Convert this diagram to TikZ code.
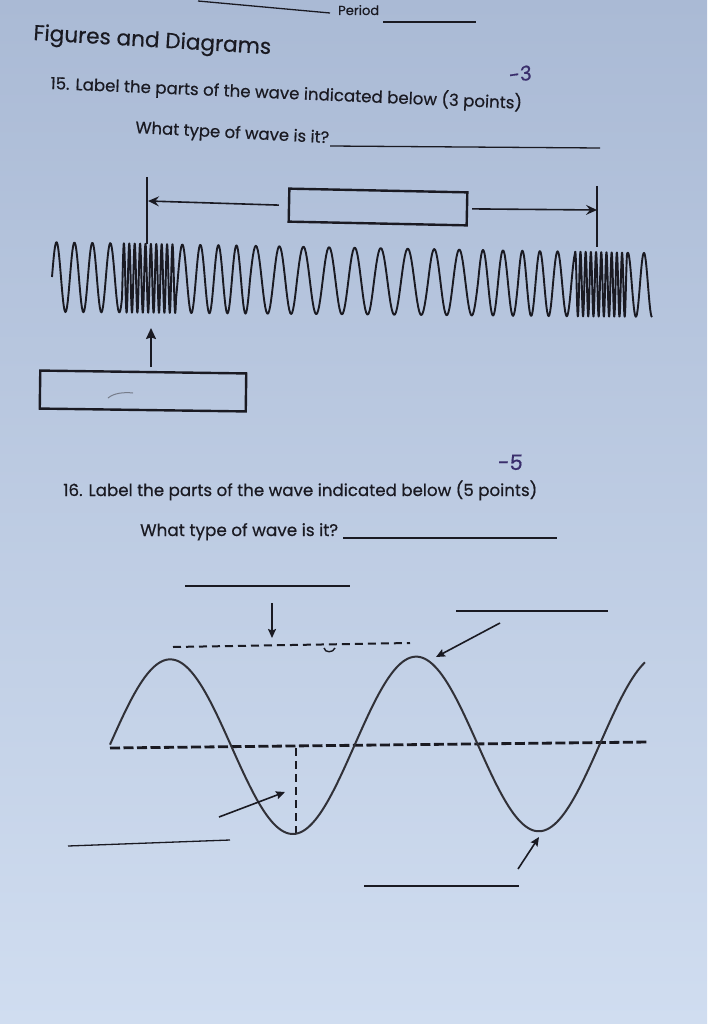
\documentclass[tikz,border=0pt]{standalone}
\usepackage{fontspec}
\setmainfont[FakeBold=0.5]{Poppins}
\usetikzlibrary{arrows.meta}
\definecolor{paperTop}{RGB}{170,186,213}
\definecolor{paperBot}{RGB}{208,221,240}
\definecolor{ink}{RGB}{26,26,34}
\definecolor{pen}{RGB}{58,46,108}
\definecolor{pencil}{RGB}{118,124,138}
\begin{document}
\begin{tikzpicture}[x=1pt,y=-1pt,
  txt/.style={inner sep=0pt, text=ink, anchor=base west},
  hand/.style={inner sep=0pt, text=pen, anchor=base west},
  rule/.style={draw=ink, line width=1.3pt},
  ansbox/.style={draw=ink, line width=2.4pt, inner sep=0pt, fill=none},
  barb/.style={draw=ink, line width=1.6pt, -{Stealth[length=11pt,width=10pt,inset=4pt]}},
  fillarr/.style={draw=ink, line width=1.6pt, -{Stealth[length=9pt,width=8pt,inset=1.5pt]}},
  spring/.style={draw=ink, line width=1.9pt, line join=round},
  wave/.style={draw=ink!90, line width=2pt},
  axisdash/.style={draw=ink, line width=2.8pt, dash pattern=on 10pt off 3.5pt},
  thindash/.style={draw=ink, line width=2pt, dash pattern=on 8pt off 5pt}]
% paper
\shade[top color=paperTop, bottom color=paperBot] (0,0) rectangle (707,1024);
\useasboundingbox (0,0) rectangle (707,1024);

% header
\coordinate (nameA) at (198,1); \coordinate (nameB) at (330,13);
\draw[rule] (nameA) -- (nameB);
\node[txt] (period) at (338,15) {\resizebox{41pt}{!}{Period}};
\coordinate (perA) at (383,22); \coordinate (perB) at (476,22);
\draw[rule] (perA) -- (perB);
\node[txt, rotate=-3.4] (title) at (33,40) {\resizebox{238pt}{!}{Figures and Diagrams}};

% question 15
\node[txt, rotate=-2.4] (q15) at (50,89) {\resizebox{472pt}{!}{15. Label the parts of the wave indicated below (3 points)}};
\node[hand, rotate=8] (m3) at (509,83) {\resizebox{23pt}{!}{\addfontfeature{FakeSlant=0.1}-3}};
\node[txt, rotate=-3.0] (w15) at (135,133) {\resizebox{194pt}{!}{What type of wave is it?}};
\coordinate (u15a) at (330,146); \coordinate (u15b) at (600,148);
\draw[rule] (u15a) -- (u15b);

% wavelength box and arrows
\node[ansbox, rotate=-1.2, minimum width=178pt, minimum height=33pt] (box1) at (378,207) {};
\coordinate (lvTop) at (147,177); \coordinate (lvBot) at (147,244);
\coordinate (rvTop) at (597,186); \coordinate (rvBot) at (597,247);
\draw[ink, line width=1.8pt] (lvTop) -- (lvBot);
\draw[ink, line width=1.8pt] (rvTop) -- (rvBot);
\coordinate (lArrEnd) at (148,201); \coordinate (rArrEnd) at (597,210);
\draw[barb] ([xshift=-9pt]box1.west) -- (lArrEnd);
\draw[barb] ([xshift=4pt]box1.east) -- (rArrEnd);

% longitudinal (spring) wave
\draw[spring] (52,277)
  \foreach \ta/\xa/\tb/\xb/\ns in {0/52/3.9/122/90, 3.9/122/13.9/176/260, 13.9/176/18/250/100, 18/250/20/297/50, 20/297/23/374/70, 23/374/25/428/50, 25/428/27/478/50, 27/478/29/518/50, 29/518/31/553/50, 31/553/32.2/575/30, 32.2/575/42.2/627/260, 42.2/627/43.75/652/45}
  { -- plot[domain=\ta:\tb, samples=\ns, variable=\t]
      ({\xa+(\t-\ta)*(\xb-\xa)/(\tb-\ta)},
       {277 + (\xa+(\t-\ta)*(\xb-\xa)/(\tb-\ta)-52)*8/598 - (35 - (\xa+(\t-\ta)*(\xb-\xa)/(\tb-\ta)-52)*3/598)*sin(360*mod(\t,1))}) };

% compression box and arrow
\node[ansbox, rotate=-0.8, minimum width=206pt, minimum height=38pt] (box2) at (143,391) {};
\coordinate (upS) at (151,367); \coordinate (upE) at (151,328);
\draw[draw=ink, line width=1.7pt, -{Stealth[length=11pt,width=10pt,inset=1.5pt]}] (upS) -- (upE);
\draw[pencil, line width=1pt] (108,398) .. controls (114,393) and (124,392) .. (133,393);

% question 16
\node[hand] (m5) at (497,470) {\resizebox{25pt}{!}{\addfontfeature{FakeSlant=0.1}-5}};
\node[txt] (q16) at (63,496) {\resizebox{474pt}{!}{16. Label the parts of the wave indicated below (5 points)}};
\node[txt] (w16) at (140,536) {\resizebox{198pt}{!}{What type of wave is it?}};
\coordinate (u16a) at (343,538); \coordinate (u16b) at (557,538);
\draw[rule] (u16a) -- (u16b);

% answer lines
\coordinate (l1a) at (185,586); \coordinate (l1b) at (350,586);
\coordinate (l2a) at (456,611); \coordinate (l2b) at (608,611);
\coordinate (l3a) at (68,846);  \coordinate (l3b) at (230,840);
\coordinate (l4a) at (364,886); \coordinate (l4b) at (519,886);
\draw[rule] (l1a) -- (l1b);
\draw[rule] (l2a) -- (l2b);
\draw[rule] (l3a) -- (l3b);
\draw[rule] (l4a) -- (l4b);

% transverse wave
\draw[thindash] (173,647) -- (410,643);
\draw[ink, line width=1.4pt] (324,648) .. controls (325,653) and (333,653) .. (335,648);
\draw[axisdash] (110,748) -- (649,742);
\draw[thindash] (296,748) -- (296,836);
\draw[wave] plot[domain=110:645, samples=220, variable=\x] (\x, {748 - (\x-110)*0.011 - 88*cos(1.463415*(\x-170))});

% pointer arrows
\coordinate (a1s) at (272,603); \coordinate (a1e) at (272,638);
\coordinate (a2s) at (500,623); \coordinate (a2e) at (436,657);
\coordinate (a3s) at (219,817); \coordinate (a3e) at (285,792);
\coordinate (a4s) at (518,869); \coordinate (a4e) at (539,837);
\draw[fillarr] (a1s) -- (a1e);
\draw[fillarr] (a2s) -- (a2e);
\draw[fillarr] (a3s) -- (a3e);
\draw[fillarr] (a4s) -- (a4e);
\end{tikzpicture}
\end{document}
